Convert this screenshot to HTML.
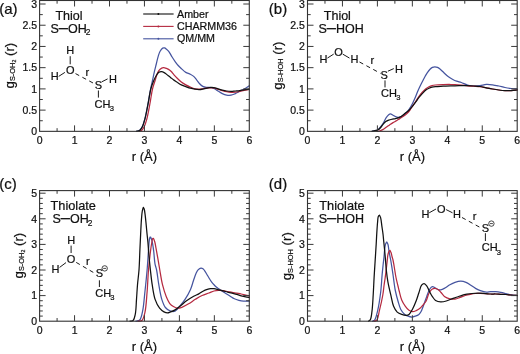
<!DOCTYPE html><html><head><meta charset="utf-8"><title>RDF</title><style>html,body{margin:0;padding:0;background:#fff;width:520px;height:354px;overflow:hidden}svg{display:block}text{font-family:"Liberation Sans", Arial, Helvetica, sans-serif;fill:#111;stroke:#111;stroke-width:0.22px}</style></head><body>
<svg width="520" height="354" viewBox="0 0 520 354">
<g fill="none" stroke-width="1.25" stroke-linejoin="round" stroke-linecap="round">
<path stroke="#45549f" d="M136.5,131.35 C137.1,131.2 137.72,131.12 138.3,130.9 C138.89,130.67 139.44,130.51 140,130 C140.86,129.22 141.76,127.74 142.5,126.2 C143.46,124.19 144.2,121.39 144.9,118.8 C145.65,116.01 146.19,113.05 146.8,110 C147.46,106.73 148.09,103.17 148.7,99.8 C149.29,96.5 149.76,93.23 150.4,90 C151.03,86.8 151.82,83.62 152.5,80.5 C153.15,77.49 153.74,74.44 154.4,71.6 C155.01,68.96 155.67,66.53 156.3,64 C156.93,61.47 157.5,58.68 158.2,56.4 C158.79,54.49 159.26,52.65 160.1,51.2 C160.82,49.96 161.82,48.57 162.7,48.1 C163.29,47.78 163.91,47.76 164.5,47.9 C165.18,48.06 165.84,48.68 166.5,49.2 C167.24,49.79 167.95,50.36 168.7,51.3 C169.8,52.68 170.96,55.2 172.1,57 C173.16,58.68 174.23,60.32 175.3,61.8 C176.26,63.13 177.16,64.34 178.2,65.5 C179.23,66.64 180.31,67.61 181.5,68.7 C182.82,69.91 184.27,71.47 185.8,72.4 C187.22,73.26 188.94,73.49 190.3,74.2 C191.55,74.85 192.67,75.5 193.7,76.4 C194.78,77.35 195.66,78.63 196.6,79.8 C197.56,80.99 198.35,82.39 199.4,83.5 C200.43,84.59 201.59,85.75 202.8,86.4 C203.87,86.98 205.01,87.24 206.2,87.4 C207.47,87.57 208.86,87.09 210.2,87.3 C211.63,87.52 213.17,88.16 214.5,88.8 C215.76,89.41 216.77,90.24 218,91 C219.36,91.84 220.83,92.91 222.3,93.6 C223.7,94.26 225.14,94.84 226.6,95.1 C228.04,95.36 229.56,95.44 231,95.2 C232.47,94.95 233.88,94.22 235.3,93.6 C236.75,92.96 238.16,92.12 239.6,91.4 C241.03,90.69 242.41,90.14 243.9,89.3 C245.63,88.32 248.4,86.38 249.3,85.8"/>
<path stroke="#b52a40" d="M139.3,131.35 C140.13,130.97 141.05,130.84 141.8,130.2 C142.76,129.38 143.55,128.01 144.3,126.5 C145.29,124.51 146.08,121.69 146.8,119.1 C147.57,116.34 148.1,113.41 148.7,110.4 C149.34,107.19 149.89,103.84 150.5,100.4 C151.15,96.73 151.66,92.5 152.5,89 C153.23,85.93 154.23,83.25 155.1,80.5 C155.93,77.89 156.6,74.91 157.6,72.9 C158.34,71.41 159.08,70.18 160.1,69.3 C161.02,68.51 162.21,67.84 163.3,67.7 C164.34,67.57 165.58,68.07 166.5,68.4 C167.26,68.67 167.82,68.97 168.5,69.4 C169.31,69.9 170.17,70.52 171,71.3 C172.01,72.25 172.99,73.67 174,74.8 C174.99,75.9 175.89,76.89 177,78 C178.29,79.28 179.8,80.83 181.3,82 C182.74,83.12 184.27,84.04 185.8,84.9 C187.28,85.73 188.78,86.45 190.3,87.1 C191.81,87.75 193.35,88.45 194.9,88.8 C196.39,89.13 197.9,89.25 199.4,89.2 C200.9,89.15 202.33,88.71 203.9,88.5 C205.62,88.27 207.59,87.98 209.3,87.9 C210.84,87.83 212.26,87.79 213.7,88 C215.16,88.22 216.57,88.77 218,89.2 C219.44,89.63 220.86,90.18 222.3,90.6 C223.73,91.01 225.15,91.42 226.6,91.7 C228.05,91.98 229.54,92.22 231,92.3 C232.44,92.38 233.87,92.33 235.3,92.2 C236.74,92.07 238.17,91.8 239.6,91.5 C241.04,91.2 242.38,90.72 243.9,90.4 C245.59,90.04 248.4,89.65 249.3,89.5"/>
<path stroke="#111111" d="M136.5,131.35 C137.1,131.2 137.72,131.09 138.3,130.9 C138.88,130.71 139.45,130.65 140,130.2 C140.86,129.5 141.76,128.01 142.5,126.5 C143.47,124.51 144.2,121.68 144.9,119.1 C145.65,116.33 146.19,113.41 146.8,110.4 C147.46,107.19 148.06,103.84 148.7,100.4 C149.39,96.73 149.87,92.49 150.8,89 C151.62,85.92 152.77,82.93 153.8,80.5 C154.61,78.58 155.37,76.94 156.3,75.5 C157.1,74.26 157.93,72.91 158.9,72.3 C159.67,71.82 160.52,71.65 161.4,71.7 C162.41,71.76 163.56,72.32 164.6,72.9 C165.77,73.55 166.95,74.7 168,75.5 C168.9,76.18 169.64,76.72 170.5,77.4 C171.44,78.14 172.37,79.05 173.4,79.8 C174.47,80.58 175.59,81.22 176.8,82 C178.19,82.9 179.76,84.12 181.3,84.9 C182.76,85.64 184.3,86.05 185.8,86.6 C187.3,87.15 188.78,87.77 190.3,88.2 C191.81,88.63 193.37,88.97 194.9,89.2 C196.4,89.43 197.9,89.67 199.4,89.6 C200.9,89.53 202.34,89.11 203.9,88.8 C205.62,88.46 207.58,87.79 209.3,87.6 C210.83,87.43 212.26,87.4 213.7,87.6 C215.16,87.8 216.57,88.38 218,88.8 C219.44,89.22 220.86,89.73 222.3,90.1 C223.73,90.46 225.15,90.78 226.6,91 C228.05,91.22 229.54,91.4 231,91.4 C232.44,91.4 233.87,91.13 235.3,91 C236.73,90.87 238.17,90.78 239.6,90.6 C241.04,90.42 242.38,90.12 243.9,89.9 C245.6,89.65 248.4,89.32 249.3,89.2"/>
</g>
<path fill="none" stroke="#3a3a3a" stroke-width="1" d="M57.08,131.35 v-3.2 M57.08,0.5 v3.2 M74.55,131.35 v-6 M74.55,0.5 v6 M92.03,131.35 v-3.2 M92.03,0.5 v3.2 M109.5,131.35 v-6 M109.5,0.5 v6 M126.97,131.35 v-3.2 M126.97,0.5 v3.2 M144.45,131.35 v-6 M144.45,0.5 v6 M161.93,131.35 v-3.2 M161.93,0.5 v3.2 M179.4,131.35 v-6 M179.4,0.5 v6 M196.88,131.35 v-3.2 M196.88,0.5 v3.2 M214.35,131.35 v-6 M214.35,0.5 v6 M231.83,131.35 v-3.2 M231.83,0.5 v3.2 M39.6,120.74 h3.2 M249.3,120.74 h-3.2 M39.6,110.12 h6 M249.3,110.12 h-6 M39.6,99.51 h3.2 M249.3,99.51 h-3.2 M39.6,88.9 h6 M249.3,88.9 h-6 M39.6,78.29 h3.2 M249.3,78.29 h-3.2 M39.6,67.67 h6 M249.3,67.67 h-6 M39.6,57.06 h3.2 M249.3,57.06 h-3.2 M39.6,46.45 h6 M249.3,46.45 h-6 M39.6,35.84 h3.2 M249.3,35.84 h-3.2 M39.6,25.22 h6 M249.3,25.22 h-6 M39.6,14.61 h3.2 M249.3,14.61 h-3.2 M39.6,4 h6 M249.3,4 h-6"/>
<rect x="39.6" y="0.5" width="209.7" height="130.85" fill="none" stroke="#333" stroke-width="1.1"/>
<text x="39.6" y="143.95" font-size="10.5" text-anchor="middle">0</text>
<text x="74.55" y="143.95" font-size="10.5" text-anchor="middle">1</text>
<text x="109.5" y="143.95" font-size="10.5" text-anchor="middle">2</text>
<text x="144.45" y="143.95" font-size="10.5" text-anchor="middle">3</text>
<text x="179.4" y="143.95" font-size="10.5" text-anchor="middle">4</text>
<text x="214.35" y="143.95" font-size="10.5" text-anchor="middle">5</text>
<text x="249.3" y="143.95" font-size="10.5" text-anchor="middle">6</text>
<text x="37" y="135.15" font-size="10.5" text-anchor="end">0</text>
<text x="37" y="113.92" font-size="10.5" text-anchor="end">0.5</text>
<text x="37" y="92.7" font-size="10.5" text-anchor="end">1</text>
<text x="37" y="71.47" font-size="10.5" text-anchor="end">1.5</text>
<text x="37" y="50.25" font-size="10.5" text-anchor="end">2</text>
<text x="37" y="29.02" font-size="10.5" text-anchor="end">2.5</text>
<text x="37" y="7.8" font-size="10.5" text-anchor="end">3</text>
<g fill="none" stroke-width="1.25" stroke-linejoin="round" stroke-linecap="round">
<path stroke="#45549f" d="M372,131.35 C372.6,131.2 373.08,131.07 373.8,130.9 C374.85,130.65 376.59,130.66 377.7,130 C378.84,129.32 379.59,127.91 380.5,126.8 C381.43,125.67 382.33,124.64 383.2,123.3 C384.24,121.69 385.16,119.24 386.2,117.7 C387.01,116.5 387.88,115.34 388.7,114.7 C389.27,114.26 389.78,113.89 390.4,113.9 C391.18,113.91 392.15,114.73 393,115.2 C393.85,115.67 394.63,116.35 395.5,116.7 C396.33,117.04 397.16,117.31 398.1,117.3 C399.23,117.29 400.72,116.94 401.8,116.4 C402.84,115.88 403.59,114.98 404.5,114.2 C405.48,113.36 406.51,112.64 407.5,111.5 C408.78,110.03 410.13,107.95 411.3,105.9 C412.59,103.65 413.67,101.05 414.8,98.5 C415.98,95.83 417.1,92.69 418.2,90.2 C419.12,88.11 420.02,86.28 420.9,84.5 C421.69,82.91 422.45,81.45 423.2,80 C423.91,78.63 424.6,77.25 425.3,76 C425.93,74.87 426.47,73.87 427.2,72.8 C428.01,71.61 429.04,70.15 430,69.2 C430.78,68.43 431.55,67.8 432.4,67.4 C433.19,67.03 434.06,66.8 434.9,66.8 C435.76,66.8 436.7,67.06 437.5,67.4 C438.29,67.73 438.88,68.17 439.7,68.8 C440.91,69.74 442.5,71.41 443.9,72.7 C445.3,73.98 446.64,75.4 448.1,76.5 C449.48,77.55 450.95,78.4 452.4,79.2 C453.79,79.96 455.14,80.65 456.6,81.2 C458.1,81.76 459.64,81.94 461.3,82.5 C463.24,83.16 465.39,84.42 467.5,85 C469.56,85.57 471.7,85.9 473.8,86 C475.87,86.1 477.93,85.86 480,85.6 C482.1,85.33 484.2,84.53 486.3,84.4 C488.37,84.27 490.43,84.54 492.5,84.8 C494.6,85.07 496.71,85.55 498.8,86 C500.88,86.45 502.92,87.08 505,87.5 C507.08,87.92 509.23,88.25 511.3,88.5 C513.29,88.74 516.22,88.92 517.2,89"/>
<path stroke="#b52a40" d="M377,131.35 C377.8,131.23 378.55,131.23 379.4,131 C380.45,130.71 381.7,130.19 382.8,129.6 C383.97,128.97 385.07,128.08 386.2,127.3 C387.34,126.51 388.46,125.69 389.6,124.9 C390.73,124.12 391.85,123.29 393,122.6 C394.12,121.93 395.29,121.46 396.4,120.8 C397.53,120.13 398.59,119.3 399.7,118.6 C400.79,117.91 401.88,117.38 403,116.6 C404.27,115.71 405.72,114.62 406.9,113.5 C408.04,112.41 409.07,111.22 410,110 C410.9,108.82 411.52,107.62 412.4,106.3 C413.43,104.75 414.68,103 415.8,101.3 C416.95,99.57 418.03,97.61 419.2,96 C420.27,94.54 421.35,93.23 422.5,92 C423.59,90.84 424.75,89.7 425.9,88.8 C426.92,88 427.95,87.34 429,86.8 C429.98,86.29 430.95,85.9 432,85.6 C433.08,85.29 434.03,85.16 435.4,85 C437.44,84.77 440.53,84.68 443.1,84.6 C445.67,84.52 448.62,84.46 450.8,84.5 C452.41,84.53 453.46,84.6 455,84.7 C456.89,84.82 459.21,85.02 461.3,85.2 C463.38,85.38 465.42,85.63 467.5,85.8 C469.59,85.97 471.71,86.07 473.8,86.2 C475.87,86.33 477.93,86.34 480,86.6 C482.1,86.87 484.21,87.4 486.3,87.8 C488.38,88.2 490.42,88.63 492.5,89 C494.59,89.37 496.7,89.73 498.8,90 C500.87,90.26 502.92,90.5 505,90.6 C507.09,90.7 509.24,90.7 511.3,90.6 C513.3,90.5 516.22,90.1 517.2,90"/>
<path stroke="#111111" d="M372,131.35 C372.6,131.2 373.08,131.07 373.8,130.9 C374.85,130.65 376.54,130.57 377.7,130 C378.84,129.43 379.8,128.46 380.7,127.5 C381.64,126.5 382.32,125.13 383.2,124.1 C384.02,123.14 384.85,122.18 385.8,121.5 C386.69,120.87 387.68,120.48 388.7,120.1 C389.77,119.7 390.96,119.45 392.1,119.2 C393.23,118.95 394.37,118.85 395.5,118.6 C396.64,118.35 397.84,118.13 398.9,117.7 C399.93,117.29 400.88,116.74 401.8,116.1 C402.75,115.44 403.48,114.64 404.5,113.8 C405.8,112.72 407.66,111.49 409,110.2 C410.27,108.98 411.29,107.66 412.4,106.3 C413.55,104.89 414.68,103.4 415.8,101.9 C416.95,100.37 418.04,98.66 419.2,97.2 C420.28,95.84 421.37,94.61 422.5,93.4 C423.6,92.21 424.73,90.9 425.9,90 C426.91,89.22 427.95,88.67 429,88.2 C429.99,87.76 430.96,87.46 432,87.2 C433.09,86.92 434.03,86.76 435.4,86.6 C437.44,86.37 440.53,86.32 443.1,86.2 C445.67,86.08 448.62,85.97 450.8,85.9 C452.41,85.85 453.46,85.83 455,85.8 C456.89,85.76 459.21,85.72 461.3,85.7 C463.37,85.68 465.43,85.65 467.5,85.7 C469.59,85.75 471.71,85.87 473.8,86 C475.88,86.13 477.93,86.2 480,86.5 C482.1,86.8 484.21,87.38 486.3,87.8 C488.37,88.21 490.42,88.63 492.5,89 C494.59,89.37 496.7,89.73 498.8,90 C500.87,90.26 502.92,90.5 505,90.6 C507.09,90.7 509.24,90.7 511.3,90.6 C513.3,90.5 516.22,90.1 517.2,90"/>
</g>
<path fill="none" stroke="#3a3a3a" stroke-width="1" d="M324.98,131.35 v-3.2 M324.98,0.5 v3.2 M342.45,131.35 v-6 M342.45,0.5 v6 M359.93,131.35 v-3.2 M359.93,0.5 v3.2 M377.4,131.35 v-6 M377.4,0.5 v6 M394.88,131.35 v-3.2 M394.88,0.5 v3.2 M412.35,131.35 v-6 M412.35,0.5 v6 M429.83,131.35 v-3.2 M429.83,0.5 v3.2 M447.3,131.35 v-6 M447.3,0.5 v6 M464.77,131.35 v-3.2 M464.77,0.5 v3.2 M482.25,131.35 v-6 M482.25,0.5 v6 M499.73,131.35 v-3.2 M499.73,0.5 v3.2 M307.5,120.74 h3.2 M517.2,120.74 h-3.2 M307.5,110.12 h6 M517.2,110.12 h-6 M307.5,99.51 h3.2 M517.2,99.51 h-3.2 M307.5,88.9 h6 M517.2,88.9 h-6 M307.5,78.29 h3.2 M517.2,78.29 h-3.2 M307.5,67.67 h6 M517.2,67.67 h-6 M307.5,57.06 h3.2 M517.2,57.06 h-3.2 M307.5,46.45 h6 M517.2,46.45 h-6 M307.5,35.84 h3.2 M517.2,35.84 h-3.2 M307.5,25.22 h6 M517.2,25.22 h-6 M307.5,14.61 h3.2 M517.2,14.61 h-3.2 M307.5,4 h6 M517.2,4 h-6"/>
<rect x="307.5" y="0.5" width="209.7" height="130.85" fill="none" stroke="#333" stroke-width="1.1"/>
<text x="307.5" y="143.95" font-size="10.5" text-anchor="middle">0</text>
<text x="342.45" y="143.95" font-size="10.5" text-anchor="middle">1</text>
<text x="377.4" y="143.95" font-size="10.5" text-anchor="middle">2</text>
<text x="412.35" y="143.95" font-size="10.5" text-anchor="middle">3</text>
<text x="447.3" y="143.95" font-size="10.5" text-anchor="middle">4</text>
<text x="482.25" y="143.95" font-size="10.5" text-anchor="middle">5</text>
<text x="517.2" y="143.95" font-size="10.5" text-anchor="middle">6</text>
<text x="304.9" y="135.15" font-size="10.5" text-anchor="end">0</text>
<text x="304.9" y="113.92" font-size="10.5" text-anchor="end">0.5</text>
<text x="304.9" y="92.7" font-size="10.5" text-anchor="end">1</text>
<text x="304.9" y="71.47" font-size="10.5" text-anchor="end">1.5</text>
<text x="304.9" y="50.25" font-size="10.5" text-anchor="end">2</text>
<text x="304.9" y="29.02" font-size="10.5" text-anchor="end">2.5</text>
<text x="304.9" y="7.8" font-size="10.5" text-anchor="end">3</text>
<g fill="none" stroke-width="1.25" stroke-linejoin="round" stroke-linecap="round">
<path stroke="#45549f" d="M136,321.2 C137.23,320.8 138.71,320.99 139.7,320 C141.24,318.47 141.81,314.75 142.6,311.2 C143.74,306.08 144.17,298.62 144.9,292 C145.68,284.92 146.49,277.13 147.1,270 C147.68,263.28 148.09,255.86 148.5,250.4 C148.8,246.48 148.91,242.71 149.3,240.3 C149.53,238.92 149.72,237.4 150.1,237.1 C150.25,236.98 150.43,237.1 150.6,237.1 C151.03,238.17 151.5,238.91 151.9,240.3 C152.58,242.7 153.11,246.78 153.6,250.4 C154.17,254.57 154.35,260.3 155,263.9 C155.45,266.35 156.09,267.51 156.6,270 C157.39,273.82 157.94,279.81 158.8,284.7 C159.67,289.61 160.48,295.28 161.8,299.4 C162.81,302.56 163.74,305.47 165.4,307.5 C166.81,309.22 168.85,310.64 170.6,311.2 C172.05,311.66 173.6,311.8 175,311.2 C176.84,310.41 178.53,307.65 180.2,305.7 C181.94,303.67 183.6,301.65 185.2,299.2 C187.06,296.35 189.09,292.74 190.5,289.5 C191.81,286.5 192.51,283.36 193.5,280.5 C194.41,277.88 195.25,274.97 196.2,273 C196.87,271.6 197.44,270.44 198.3,269.6 C199.05,268.88 200.06,268.2 200.9,268.1 C201.62,268.01 202.39,268.3 203,268.7 C203.68,269.15 204.13,270 204.7,270.8 C205.39,271.78 206.1,273.03 206.8,274.2 C207.53,275.43 208.22,276.74 209,278 C209.79,279.28 210.63,280.63 211.5,281.8 C212.3,282.88 213.13,283.87 214,284.8 C214.83,285.7 215.71,286.58 216.6,287.3 C217.41,287.96 218.22,288.4 219.1,289 C220.1,289.68 221.24,290.49 222.3,291.2 C223.34,291.89 224.27,292.48 225.4,293.2 C226.76,294.06 228.4,295.07 229.9,296 C231.4,296.93 232.86,298.07 234.4,298.8 C235.86,299.49 237.38,299.92 238.9,300.3 C240.41,300.68 241.87,300.96 243.5,301.1 C245.32,301.26 248.33,301.1 249.3,301.1"/>
<path stroke="#b52a40" d="M138,321.2 C139.3,320.97 140.85,321.37 141.9,320.5 C143.43,319.23 144.11,315.92 144.9,312.6 C146.14,307.41 146.5,298.99 147.1,292 C147.71,284.79 147.89,277.12 148.5,270 C149.07,263.27 149.92,255.56 150.6,250.4 C151.04,247.01 151.48,244.19 151.9,242 C152.17,240.58 152.23,238.92 152.7,238.5 C152.92,238.3 153.23,238.43 153.5,238.4 C153.93,239.6 154.41,240.6 154.8,242 C155.32,243.87 155.65,246.27 156.1,248.7 C156.64,251.59 157.22,254.86 157.8,258.2 C158.45,261.92 159.07,265.85 159.8,270 C160.62,274.63 161.36,280.1 162.5,284.7 C163.54,288.88 164.79,293.09 166.2,296.5 C167.35,299.28 168.56,302.06 170,303.8 C171.04,305.06 172.15,305.77 173.4,306.5 C174.68,307.24 176.18,308.08 177.6,308.2 C178.98,308.32 180.27,307.85 181.8,307.3 C183.84,306.57 186.37,305.11 188.6,303.8 C190.9,302.45 193.12,300.7 195.4,299.3 C197.62,297.94 199.8,296.56 202.1,295.5 C204.34,294.47 206.89,293.8 209,293 C210.81,292.31 212.34,291.43 214,291 C215.54,290.6 217.07,290.45 218.6,290.4 C220.11,290.35 221.6,290.52 223.1,290.7 C224.61,290.88 226.1,291.22 227.6,291.5 C229.1,291.78 230.59,292.12 232.1,292.4 C233.62,292.68 235.18,292.93 236.7,293.2 C238.21,293.47 239.71,293.68 241.2,294 C242.71,294.32 244.28,294.79 245.7,295.1 C246.96,295.38 248.7,295.68 249.3,295.8"/>
<path stroke="#111111" d="M130,321.2 C131.03,320.97 132.28,321.23 133.1,320.5 C134.29,319.43 134.75,316.71 135.3,314.1 C136.11,310.24 136.13,304.3 136.5,299.4 C136.87,294.5 137.08,289.6 137.5,284.7 C137.92,279.8 138.61,275.28 139,270 C139.45,263.85 139.62,256.19 139.9,250 C140.15,244.64 140.35,240 140.6,235 C140.85,230 141.07,224.36 141.4,220 C141.66,216.62 141.87,213.33 142.3,211 C142.58,209.48 142.97,208.53 143.3,207.3 C143.6,207.87 143.94,208.23 144.2,209 C144.67,210.41 144.9,212.97 145.2,215.3 C145.58,218.18 145.89,221.87 146.2,225 C146.49,227.93 146.72,230.67 147,233.5 C147.28,236.33 147.61,238.86 147.9,242 C148.25,245.87 148.5,250.51 148.9,255 C149.33,259.82 149.85,265.03 150.4,270 C150.95,274.93 151.42,279.81 152.2,284.7 C152.98,289.61 153.65,295.21 155.1,299.4 C156.28,302.8 157.86,306.01 159.6,308.2 C160.93,309.87 162.52,311.12 164,311.9 C165.19,312.53 166.52,312.91 167.6,312.9 C168.48,312.89 169.07,312.55 170,312.2 C171.4,311.68 173.45,310.88 175.1,309.9 C176.86,308.85 178.39,307.42 180.2,306 C182.29,304.36 184.61,302.24 186.9,300.6 C189.11,299.02 191.56,297.47 193.7,296.3 C195.49,295.32 197.21,294.78 198.8,293.9 C200.3,293.07 201.56,291.96 203,291.2 C204.39,290.47 205.94,289.84 207.3,289.4 C208.46,289.02 209.48,288.72 210.6,288.6 C211.72,288.48 212.79,288.54 214,288.7 C215.43,288.89 217.08,289.43 218.6,289.8 C220.11,290.16 221.6,290.52 223.1,290.9 C224.6,291.28 226.1,291.72 227.6,292.1 C229.1,292.48 230.59,292.84 232.1,293.2 C233.62,293.57 235.18,293.87 236.7,294.3 C238.22,294.73 239.69,295.36 241.2,295.8 C242.69,296.23 244.28,296.61 245.7,296.9 C246.96,297.16 248.7,297.4 249.3,297.5"/>
</g>
<path fill="none" stroke="#3a3a3a" stroke-width="1" d="M57.08,321.2 v-3.2 M57.08,190.6 v3.2 M74.55,321.2 v-6 M74.55,190.6 v6 M92.03,321.2 v-3.2 M92.03,190.6 v3.2 M109.5,321.2 v-6 M109.5,190.6 v6 M126.97,321.2 v-3.2 M126.97,190.6 v3.2 M144.45,321.2 v-6 M144.45,190.6 v6 M161.93,321.2 v-3.2 M161.93,190.6 v3.2 M179.4,321.2 v-6 M179.4,190.6 v6 M196.88,321.2 v-3.2 M196.88,190.6 v3.2 M214.35,321.2 v-6 M214.35,190.6 v6 M231.83,321.2 v-3.2 M231.83,190.6 v3.2 M39.6,316.08 h3.2 M249.3,316.08 h-3.2 M39.6,310.96 h3.2 M249.3,310.96 h-3.2 M39.6,305.84 h3.2 M249.3,305.84 h-3.2 M39.6,300.72 h3.2 M249.3,300.72 h-3.2 M39.6,295.6 h6 M249.3,295.6 h-6 M39.6,290.48 h3.2 M249.3,290.48 h-3.2 M39.6,285.36 h3.2 M249.3,285.36 h-3.2 M39.6,280.24 h3.2 M249.3,280.24 h-3.2 M39.6,275.12 h3.2 M249.3,275.12 h-3.2 M39.6,270 h6 M249.3,270 h-6 M39.6,264.88 h3.2 M249.3,264.88 h-3.2 M39.6,259.76 h3.2 M249.3,259.76 h-3.2 M39.6,254.64 h3.2 M249.3,254.64 h-3.2 M39.6,249.52 h3.2 M249.3,249.52 h-3.2 M39.6,244.4 h6 M249.3,244.4 h-6 M39.6,239.28 h3.2 M249.3,239.28 h-3.2 M39.6,234.16 h3.2 M249.3,234.16 h-3.2 M39.6,229.04 h3.2 M249.3,229.04 h-3.2 M39.6,223.92 h3.2 M249.3,223.92 h-3.2 M39.6,218.8 h6 M249.3,218.8 h-6 M39.6,213.68 h3.2 M249.3,213.68 h-3.2 M39.6,208.56 h3.2 M249.3,208.56 h-3.2 M39.6,203.44 h3.2 M249.3,203.44 h-3.2 M39.6,198.32 h3.2 M249.3,198.32 h-3.2 M39.6,193.2 h6 M249.3,193.2 h-6"/>
<rect x="39.6" y="190.6" width="209.7" height="130.6" fill="none" stroke="#333" stroke-width="1.1"/>
<text x="39.6" y="333.8" font-size="10.5" text-anchor="middle">0</text>
<text x="74.55" y="333.8" font-size="10.5" text-anchor="middle">1</text>
<text x="109.5" y="333.8" font-size="10.5" text-anchor="middle">2</text>
<text x="144.45" y="333.8" font-size="10.5" text-anchor="middle">3</text>
<text x="179.4" y="333.8" font-size="10.5" text-anchor="middle">4</text>
<text x="214.35" y="333.8" font-size="10.5" text-anchor="middle">5</text>
<text x="249.3" y="333.8" font-size="10.5" text-anchor="middle">6</text>
<text x="37" y="325" font-size="10.5" text-anchor="end">0</text>
<text x="37" y="299.4" font-size="10.5" text-anchor="end">1</text>
<text x="37" y="273.8" font-size="10.5" text-anchor="end">2</text>
<text x="37" y="248.2" font-size="10.5" text-anchor="end">3</text>
<text x="37" y="222.6" font-size="10.5" text-anchor="end">4</text>
<text x="37" y="197" font-size="10.5" text-anchor="end">5</text>
<g fill="none" stroke-width="1.25" stroke-linejoin="round" stroke-linecap="round">
<path stroke="#45549f" d="M372.5,321.2 C373.2,320.87 373.97,320.92 374.6,320.2 C375.89,318.72 376.71,314.58 377.6,310.9 C378.85,305.74 379.94,298.15 380.7,292 C381.41,286.2 381.65,279.92 382.1,275 C382.44,271.23 382.76,268.24 383.1,265 C383.43,261.92 383.84,258.7 384.1,256 C384.31,253.8 384.36,251.98 384.6,250 C384.83,248.05 384.99,245.64 385.5,244.2 C385.84,243.25 386.37,242.73 386.8,242 C387.2,242.83 387.67,243.43 388,244.5 C388.51,246.17 388.59,248.82 389,251.2 C389.47,253.94 390.19,257.13 390.7,260 C391.18,262.73 391.58,265.33 392,268 C392.42,270.67 392.81,273.25 393.2,276 C393.61,278.91 394.01,282.37 394.4,285 C394.71,287.06 394.85,288.36 395.3,290.5 C395.94,293.55 397.11,298.14 398.1,301.5 C398.96,304.4 399.59,307.27 400.8,309.5 C401.82,311.38 403.15,313.05 404.5,314.2 C405.62,315.15 406.87,315.73 408.1,316.2 C409.27,316.64 410.5,317 411.7,317 C412.9,317 414.13,316.62 415.3,316.2 C416.53,315.76 417.95,315.17 418.9,314.4 C419.73,313.73 420.18,313.05 420.8,312 C421.74,310.41 422.59,307.85 423.5,305.5 C424.55,302.78 425.61,299.44 426.7,296.6 C427.71,293.96 428.59,290.71 429.8,289 C430.59,287.89 431.49,286.86 432.4,286.7 C433.2,286.56 434.03,287.27 434.9,287.7 C435.92,288.2 437.05,289.25 438.1,289.6 C438.98,289.9 439.73,290.05 440.7,289.9 C442.04,289.69 443.8,288.63 445.3,287.8 C446.87,286.94 448.29,285.7 449.9,284.8 C451.53,283.89 453.21,283 455,282.4 C456.84,281.79 458.92,281.18 460.8,281.2 C462.58,281.22 464.35,281.75 466,282.4 C467.69,283.07 469.23,284.21 470.8,285.2 C472.39,286.21 473.88,287.49 475.5,288.4 C477.08,289.28 478.67,289.99 480.4,290.6 C482.23,291.24 484.39,291.95 486.2,292.1 C487.76,292.23 489.08,291.77 490.6,291.7 C492.24,291.63 494,291.58 495.7,291.7 C497.4,291.82 499.11,292.09 500.8,292.4 C502.51,292.72 504.2,293.18 505.9,293.6 C507.6,294.02 509.2,294.59 511,294.9 C512.95,295.24 516.17,295.4 517.2,295.5"/>
<path stroke="#b52a40" d="M374,321.2 C374.9,320.9 375.95,321.09 376.7,320.3 C378.11,318.82 378.5,314.31 379.4,310.7 C380.54,306.12 381.99,299.66 382.8,295 C383.44,291.31 383.67,288.09 384.1,285 C384.47,282.32 384.84,280.15 385.2,277.5 C385.61,274.52 386.04,271.03 386.4,268 C386.73,265.22 387.05,262.3 387.3,260 C387.49,258.26 387.55,256.77 387.8,255.4 C388.01,254.26 388.21,253.19 388.6,252.3 C388.94,251.53 389.47,250.97 389.9,250.3 C390.33,251.2 390.86,252.02 391.2,253 C391.58,254.07 391.7,255.34 392,256.5 C392.3,257.67 392.69,258.67 393,260 C393.4,261.72 393.69,263.68 394.1,266 C394.66,269.21 395.29,273.97 396,277.5 C396.61,280.56 397.42,283.54 398,286 C398.45,287.89 398.71,289.1 399.2,291 C399.86,293.55 400.58,297.24 401.7,299.9 C402.7,302.28 404.07,304.47 405.4,306.3 C406.53,307.86 407.68,309.39 409,310.3 C410.12,311.07 411.39,311.66 412.6,311.7 C413.79,311.74 415.02,311.13 416.2,310.6 C417.49,310.03 418.91,309.19 420,308.3 C421.01,307.47 421.7,306.55 422.6,305.5 C423.68,304.24 425,302.96 426,301.2 C427.28,298.94 427.92,294.97 429.2,292.8 C430.15,291.19 431.28,289.72 432.4,289 C433.21,288.48 434.02,288.25 434.9,288.3 C435.91,288.36 437.12,288.95 438.1,289.6 C439.17,290.31 440.01,291.44 441,292.5 C442.11,293.69 442.99,295.37 444.4,296.4 C445.92,297.51 448.06,298.36 449.9,298.8 C451.6,299.21 453.32,299.32 455,299.1 C456.72,298.87 458.41,298 460.1,297.4 C461.81,296.8 463.48,296.02 465.2,295.5 C466.88,294.99 468.59,294.63 470.3,294.3 C471.99,293.97 473.7,293.67 475.4,293.5 C477.07,293.34 478.73,293.28 480.4,293.3 C482.09,293.32 483.8,293.48 485.5,293.6 C487.2,293.72 488.9,293.93 490.6,294 C492.3,294.07 494,293.95 495.7,294 C497.4,294.05 499.1,294.22 500.8,294.3 C502.5,294.38 504.2,294.38 505.9,294.5 C507.6,294.62 509.22,294.84 511,295 C512.97,295.18 516.17,295.42 517.2,295.5"/>
<path stroke="#111111" d="M368.5,321.2 C369.13,320.67 369.89,320.48 370.4,319.6 C371.35,317.98 371.57,314.47 372,311.2 C372.59,306.69 372.85,300.51 373.2,295 C373.56,289.28 373.77,283.33 374.1,277.5 C374.43,271.67 374.84,265.7 375.2,260 C375.54,254.55 375.92,248.84 376.2,244 C376.43,239.99 376.57,236.67 376.8,233 C377.03,229.33 377.3,225.05 377.6,222 C377.82,219.82 377.75,217.53 378.3,216.4 C378.6,215.78 379.1,215.6 379.5,215.2 C379.87,216 380.28,216.52 380.6,217.6 C381.19,219.59 381.49,223.57 381.9,226.4 C382.28,229.03 382.69,231.43 383,234 C383.32,236.63 383.53,239.33 383.8,242 C384.07,244.67 384.33,247.18 384.6,250 C384.9,253.15 385.22,256.67 385.5,260 C385.78,263.33 385.93,266.53 386.3,270 C386.71,273.78 387.18,277.74 387.9,281.8 C388.68,286.19 389.9,291.12 390.9,295.4 C391.8,299.24 392.34,303.31 393.6,306.3 C394.58,308.63 395.71,310.73 397.2,312.1 C398.48,313.28 400.15,313.87 401.7,314.4 C403.19,314.92 404.98,315.38 406.3,315.3 C407.33,315.23 408.14,315.06 409,314.4 C410.3,313.41 411.48,311.04 412.6,309 C413.91,306.6 415.14,303.55 416.2,300.8 C417.23,298.12 417.98,295.34 418.9,292.7 C419.79,290.15 420.41,286.69 421.6,285.2 C422.33,284.29 423.28,283.55 424.1,283.6 C424.98,283.66 425.93,284.81 426.7,285.8 C427.69,287.08 428.29,289.17 429.2,290.9 C430.18,292.76 431.25,294.94 432.4,296.6 C433.4,298.05 434.25,299.52 435.6,300.4 C437,301.31 438.95,301.79 440.7,301.9 C442.51,302.01 444.47,301.51 446.3,301 C448.17,300.48 449.96,299.47 451.8,298.8 C453.62,298.14 455.54,297.61 457.3,297 C458.93,296.44 460.39,295.77 462,295.3 C463.63,294.83 465.33,294.5 467,294.2 C468.66,293.9 470.25,293.67 472,293.5 C473.91,293.32 475.89,293.2 478,293.2 C480.36,293.2 483.24,293.45 485.5,293.6 C487.36,293.72 488.9,293.93 490.6,294 C492.3,294.07 494,293.95 495.7,294 C497.4,294.05 499.1,294.22 500.8,294.3 C502.5,294.38 504.2,294.38 505.9,294.5 C507.6,294.62 509.22,294.84 511,295 C512.97,295.18 516.17,295.42 517.2,295.5"/>
</g>
<path fill="none" stroke="#3a3a3a" stroke-width="1" d="M324.98,321.2 v-3.2 M324.98,190.6 v3.2 M342.45,321.2 v-6 M342.45,190.6 v6 M359.93,321.2 v-3.2 M359.93,190.6 v3.2 M377.4,321.2 v-6 M377.4,190.6 v6 M394.88,321.2 v-3.2 M394.88,190.6 v3.2 M412.35,321.2 v-6 M412.35,190.6 v6 M429.83,321.2 v-3.2 M429.83,190.6 v3.2 M447.3,321.2 v-6 M447.3,190.6 v6 M464.77,321.2 v-3.2 M464.77,190.6 v3.2 M482.25,321.2 v-6 M482.25,190.6 v6 M499.73,321.2 v-3.2 M499.73,190.6 v3.2 M307.5,316.08 h3.2 M517.2,316.08 h-3.2 M307.5,310.96 h3.2 M517.2,310.96 h-3.2 M307.5,305.84 h3.2 M517.2,305.84 h-3.2 M307.5,300.72 h3.2 M517.2,300.72 h-3.2 M307.5,295.6 h6 M517.2,295.6 h-6 M307.5,290.48 h3.2 M517.2,290.48 h-3.2 M307.5,285.36 h3.2 M517.2,285.36 h-3.2 M307.5,280.24 h3.2 M517.2,280.24 h-3.2 M307.5,275.12 h3.2 M517.2,275.12 h-3.2 M307.5,270 h6 M517.2,270 h-6 M307.5,264.88 h3.2 M517.2,264.88 h-3.2 M307.5,259.76 h3.2 M517.2,259.76 h-3.2 M307.5,254.64 h3.2 M517.2,254.64 h-3.2 M307.5,249.52 h3.2 M517.2,249.52 h-3.2 M307.5,244.4 h6 M517.2,244.4 h-6 M307.5,239.28 h3.2 M517.2,239.28 h-3.2 M307.5,234.16 h3.2 M517.2,234.16 h-3.2 M307.5,229.04 h3.2 M517.2,229.04 h-3.2 M307.5,223.92 h3.2 M517.2,223.92 h-3.2 M307.5,218.8 h6 M517.2,218.8 h-6 M307.5,213.68 h3.2 M517.2,213.68 h-3.2 M307.5,208.56 h3.2 M517.2,208.56 h-3.2 M307.5,203.44 h3.2 M517.2,203.44 h-3.2 M307.5,198.32 h3.2 M517.2,198.32 h-3.2 M307.5,193.2 h6 M517.2,193.2 h-6"/>
<rect x="307.5" y="190.6" width="209.7" height="130.6" fill="none" stroke="#333" stroke-width="1.1"/>
<text x="307.5" y="333.8" font-size="10.5" text-anchor="middle">0</text>
<text x="342.45" y="333.8" font-size="10.5" text-anchor="middle">1</text>
<text x="377.4" y="333.8" font-size="10.5" text-anchor="middle">2</text>
<text x="412.35" y="333.8" font-size="10.5" text-anchor="middle">3</text>
<text x="447.3" y="333.8" font-size="10.5" text-anchor="middle">4</text>
<text x="482.25" y="333.8" font-size="10.5" text-anchor="middle">5</text>
<text x="517.2" y="333.8" font-size="10.5" text-anchor="middle">6</text>
<text x="304.9" y="325" font-size="10.5" text-anchor="end">0</text>
<text x="304.9" y="299.4" font-size="10.5" text-anchor="end">1</text>
<text x="304.9" y="273.8" font-size="10.5" text-anchor="end">2</text>
<text x="304.9" y="248.2" font-size="10.5" text-anchor="end">3</text>
<text x="304.9" y="222.6" font-size="10.5" text-anchor="end">4</text>
<text x="304.9" y="197" font-size="10.5" text-anchor="end">5</text>
<text x="-0.8" y="13.6" font-size="15">(a)</text>
<text x="268.8" y="13.6" font-size="15">(b)</text>
<text x="-0.8" y="189.2" font-size="15">(c)</text>
<text x="268.8" y="189.2" font-size="15">(d)</text>
<text x="144.45" y="161" font-size="13" text-anchor="middle">r (Å)</text>
<text x="412.4" y="161" font-size="13" text-anchor="middle">r (Å)</text>
<text x="144.45" y="350.6" font-size="13" text-anchor="middle">r (Å)</text>
<text x="412.4" y="350.6" font-size="13" text-anchor="middle">r (Å)</text>
<text transform="translate(13.9,65.6) rotate(-90)" font-size="13.3" text-anchor="middle">g<tspan font-size="7.4" dy="1.5">S-OH</tspan><tspan font-size="5.2" dy="0.9">2</tspan><tspan font-size="13.3" dy="-2.4"> (r)</tspan></text>
<text transform="translate(281.7,65.6) rotate(-90)" font-size="13.3" text-anchor="middle">g<tspan font-size="7.4" dy="1.5">S-HOH</tspan><tspan font-size="13.3" dy="-1.5"> (r)</tspan></text>
<text transform="translate(22.8,255.6) rotate(-90)" font-size="13.3" text-anchor="middle">g<tspan font-size="7.4" dy="1.5">S-OH</tspan><tspan font-size="5.2" dy="0.9">2</tspan><tspan font-size="13.3" dy="-2.4"> (r)</tspan></text>
<text transform="translate(291.0,256.2) rotate(-90)" font-size="13.3" text-anchor="middle">g<tspan font-size="7.4" dy="1.5">S-HOH</tspan><tspan font-size="13.3" dy="-1.5"> (r)</tspan></text>
<line x1="143.2" y1="14.0" x2="173.6" y2="14.0" stroke="#111111" stroke-width="1.1"/>
<circle cx="158.4" cy="14.0" r="1" fill="#111111"/>
<text x="177.0" y="17.6" font-size="10.7">Amber</text>
<line x1="143.2" y1="26.4" x2="173.6" y2="26.4" stroke="#b52a40" stroke-width="1.1"/>
<circle cx="158.4" cy="26.4" r="1" fill="#b52a40"/>
<text x="177.0" y="30.0" font-size="10.7">CHARMM36</text>
<line x1="143.2" y1="38.8" x2="173.6" y2="38.8" stroke="#45549f" stroke-width="1.1"/>
<circle cx="158.4" cy="38.8" r="1" fill="#45549f"/>
<text x="177.0" y="42.4" font-size="10.7">QM/MM</text>
<text x="55.4" y="19.8" font-size="12.5">Thiol</text>
<text x="50.4" y="32.7" font-size="12.5">S<tspan font-size="16.5">–</tspan>OH<tspan font-size="8.4" dx="-0.9" dy="2.5">2</tspan></text>
<text x="323.8" y="19.5" font-size="12.5">Thiol</text>
<text x="318.4" y="32.7" font-size="12.5">S<tspan font-size="16.5">–</tspan>HOH</text>
<text x="50.5" y="209.8" font-size="12.75">Thiolate</text>
<text x="52.4" y="223.2" font-size="12.5">S<tspan font-size="16.5">–</tspan>OH<tspan font-size="8.4" dx="-0.9" dy="2.5">2</tspan></text>
<text x="319.3" y="209.8" font-size="12.75">Thiolate</text>
<text x="318.7" y="222.7" font-size="12.5">S<tspan font-size="16.5">–</tspan>HOH</text>
<text x="70.3" y="54.4" font-size="11" text-anchor="middle">H</text>
<line x1="70.2" y1="56.2" x2="70.2" y2="64.3" stroke="#1a1a1a" stroke-width="1" fill="none"/>
<text x="70.4" y="74.0" font-size="11" text-anchor="middle">O</text>
<text x="54.8" y="80.2" font-size="11" text-anchor="middle">H</text>
<line x1="58.7" y1="76.4" x2="64.9" y2="72.4" stroke="#1a1a1a" stroke-width="1" fill="none"/>
<line x1="75.5" y1="73.6" x2="93.8" y2="83.4" stroke="#1a1a1a" stroke-width="1" fill="none" stroke-dasharray="4.2 3.6"/>
<text x="87.4" y="76.2" font-size="11" text-anchor="middle">r</text>
<text x="98.3" y="89.2" font-size="11" text-anchor="middle">S</text>
<line x1="101.6" y1="81.9" x2="107.6" y2="78.9" stroke="#1a1a1a" stroke-width="1" fill="none"/>
<text x="113.0" y="83.0" font-size="11" text-anchor="middle">H</text>
<line x1="98.4" y1="90.5" x2="98.4" y2="97.6" stroke="#1a1a1a" stroke-width="1" fill="none"/>
<text x="94.6" y="107.5" font-size="11">CH<tspan font-size="7.6" dx="-0.8" dy="3.7">3</tspan></text>
<text x="323.5" y="62.9" font-size="11" text-anchor="middle">H</text>
<line x1="327.4" y1="58.1" x2="333.7" y2="54.1" stroke="#1a1a1a" stroke-width="1" fill="none"/>
<text x="338.45" y="56.2" font-size="11" text-anchor="middle">O</text>
<line x1="342.7" y1="54.1" x2="349.5" y2="58.1" stroke="#1a1a1a" stroke-width="1" fill="none"/>
<text x="354.6" y="62.9" font-size="11" text-anchor="middle">H</text>
<line x1="359.5" y1="62.0" x2="380.6" y2="73.4" stroke="#1a1a1a" stroke-width="1" fill="none" stroke-dasharray="4.2 3.6"/>
<text x="372.45" y="63.8" font-size="11" text-anchor="middle">r</text>
<text x="384.1" y="79.2" font-size="11" text-anchor="middle">S</text>
<line x1="387.9" y1="71.2" x2="393.8" y2="68.6" stroke="#1a1a1a" stroke-width="1" fill="none"/>
<text x="398.9" y="73.4" font-size="11" text-anchor="middle">H</text>
<line x1="385.0" y1="80.4" x2="385.0" y2="87.4" stroke="#1a1a1a" stroke-width="1" fill="none"/>
<text x="381.1" y="96.6" font-size="11">CH<tspan font-size="7.6" dx="-0.8" dy="3.7">3</tspan></text>
<text x="71.25" y="244.0" font-size="11" text-anchor="middle">H</text>
<line x1="71.1" y1="245.6" x2="71.1" y2="253.0" stroke="#1a1a1a" stroke-width="1" fill="none"/>
<text x="71.05" y="263.0" font-size="11" text-anchor="middle">O</text>
<text x="55.5" y="273.0" font-size="11" text-anchor="middle">H</text>
<line x1="59.6" y1="267.4" x2="66.0" y2="262.6" stroke="#1a1a1a" stroke-width="1" fill="none"/>
<line x1="76.2" y1="262.4" x2="95.0" y2="273.4" stroke="#1a1a1a" stroke-width="1" fill="none" stroke-dasharray="4.2 3.6"/>
<text x="87.9" y="264.7" font-size="11" text-anchor="middle">r</text>
<text x="99.3" y="277.4" font-size="11" text-anchor="middle">S</text>
<circle cx="104.7" cy="268.4" r="2.7" stroke="#1a1a1a" stroke-width="0.8" fill="none"/>
<line x1="103.2" y1="268.4" x2="106.2" y2="268.4" stroke="#1a1a1a" stroke-width="0.8"/>
<line x1="99.4" y1="280.3" x2="99.4" y2="287.0" stroke="#1a1a1a" stroke-width="1" fill="none"/>
<text x="95.2" y="296.6" font-size="11">CH<tspan font-size="7.6" dx="-0.8" dy="3.7">3</tspan></text>
<text x="425.5" y="218.3" font-size="11" text-anchor="middle">H</text>
<line x1="429.2" y1="212.8" x2="436.0" y2="209.0" stroke="#1a1a1a" stroke-width="1" fill="none"/>
<text x="441.35" y="212.6" font-size="11" text-anchor="middle">O</text>
<line x1="446.1" y1="209.6" x2="452.5" y2="212.8" stroke="#1a1a1a" stroke-width="1" fill="none"/>
<text x="456.9" y="218.3" font-size="11" text-anchor="middle">H</text>
<line x1="462.0" y1="217.5" x2="481.5" y2="228.2" stroke="#1a1a1a" stroke-width="1" fill="none" stroke-dasharray="4.2 3.6"/>
<text x="474.65" y="220.0" font-size="11" text-anchor="middle">r</text>
<text x="485.4" y="231.9" font-size="11" text-anchor="middle">S</text>
<circle cx="491.4" cy="223.6" r="2.7" stroke="#1a1a1a" stroke-width="0.8" fill="none"/>
<line x1="489.9" y1="223.6" x2="492.9" y2="223.6" stroke="#1a1a1a" stroke-width="0.8"/>
<line x1="485.4" y1="233.2" x2="485.4" y2="241.0" stroke="#1a1a1a" stroke-width="1" fill="none"/>
<text x="481.7" y="250.8" font-size="11">CH<tspan font-size="7.6" dx="-0.8" dy="3.7">3</tspan></text>
</svg></body></html>
